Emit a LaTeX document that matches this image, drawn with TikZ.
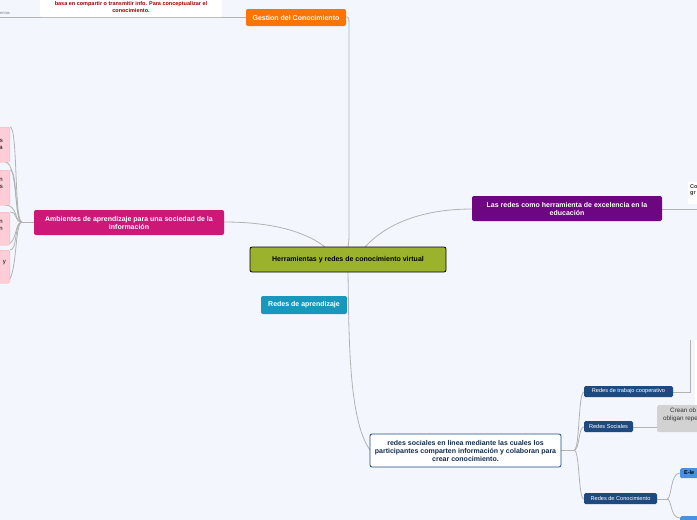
\documentclass[tikz,border=0pt]{standalone}
\usepackage{fontspec}
\setmainfont{Liberation Sans}
\begin{document}
\begin{tikzpicture}[x=1pt,y=-1pt,
 box/.style={rounded corners=2pt,text=white,font=\bfseries\fontsize{7}{8}\selectfont,align=center,inner sep=0pt},
 sub/.style={rounded corners=1.5pt,fill=navy,text=white,font=\fontsize{5.6}{6.5}\selectfont,inner sep=0pt},
 pink/.style={fill=pinkb,draw=pinkd,line width=0.3pt,rounded corners=1.5pt,font=\fontsize{6}{7}\selectfont,align=right,inner sep=0pt},
 con/.style={draw=gray!60,line width=0.8pt}]
\definecolor{bg}{HTML}{F3F6FD}
\definecolor{navy}{HTML}{1F4A80}
\definecolor{pinkb}{HTML}{FFCDD6}
\definecolor{pinkd}{HTML}{F4B0BE}
\useasboundingbox (0,0) rectangle (697,520);
\fill[bg] (0,0) rectangle (697,520);
% connectors
\draw[con] (0,17) -- (246,17);
\draw[con] (346,17) .. controls (349,17) .. (349,30) -- (349,230) .. controls (349,240) .. (348,247);
\draw[con] (224,222) .. controls (280,222) and (310,235) .. (325,247);
\draw[con] (472,209) .. controls (420,209) and (385,225) .. (365,247);
\draw[con] (662,209) -- (697,209);
\draw[con] (348,272) .. controls (349,330) and (348,420) .. (370,450);
\draw[con] (561,450) -- (574,450);
\draw[con] (574,450) .. controls (580,450) and (578,392) .. (584,392);
\draw[con] (574,450) .. controls (580,450) and (578,427) .. (584,427);
\draw[con] (574,450) .. controls (580,450) and (578,499) .. (584,499);
\draw[con] (633,427) -- (657,427);
\draw[con] (673,392) -- (690,392) -- (690,340);
\draw[con] (657,499) -- (667,499);
\draw[con] (667,499) .. controls (672,499) and (670,473) .. (680,473);
\draw[con] (667,499) .. controls (672,499) and (670,518) .. (680,518);
\draw[con] (34,222) -- (22,222);
\foreach \y in {162,205,245,283} {\draw[con] (22,222) .. controls (14,222) and (18,\y) .. (5,\y);}
\foreach \y in {127,170,212,250} {\draw[con] (10,\y) .. controls (18,\y) and (14,222) .. (22,222);}
% top box
\node[fill=white,rounded corners=1.5pt,minimum width=182pt,minimum height=20pt,anchor=north west,inner sep=0pt] (top) at (40,-3) {};
\node[font=\bfseries\fontsize{5.5}{6.5}\selectfont,text=red!60!black,align=center] (toptx) at (131,7) {basa en compartir o transmitir info. Para conceptualizar el\\conocimiento.};
\node[font=\fontsize{4}{5}\selectfont,text=gray,anchor=west,inner sep=0pt] (ent) at (0,13) {entos};
% main nodes
\node[box,fill=orange!90!red,minimum width=100pt,minimum height=17pt] (gest) at (296,17.5) {Gestion del Conocimiento};
\node[box,draw=black,line width=0.8pt,text=black,minimum width=196pt,minimum height=25pt,fill={rgb,255:red,155;green,178;blue,44}] (cen) at (348,259.5) {Herramientas y redes de conocimiento virtual};
\node[box,fill={rgb,255:red,25;green,152;blue,190},minimum width=86pt,minimum height=18pt] (apr) at (304,305) {Redes de aprendizaje};
\node[box,fill={rgb,255:red,205;green,24;blue,120},minimum width=190pt,minimum height=25pt] (amb) at (129,222.5) {Ambientes de aprendizaje para una sociedad de la\\informaci\'on};
\node[box,fill={rgb,255:red,110;green,6;blue,130},minimum width=190pt,minimum height=25pt] (las) at (567,208.5) {Las redes como herramienta de excelencia en la\\educaci\'on};
\node[box,fill=white,draw=navy,line width=0.8pt,text=navy!60!black,minimum width=191pt,minimum height=33pt] (bot) at (465.5,450.5) {redes sociales en linea mediante las cuales los\\participantes comparten informaci\'on y colaboran para\\crear conocimiento.};
\node[fill=white,anchor=north west,minimum width=12pt,minimum height=22pt,inner sep=0pt] (co) at (688,182) {};
\node[font=\bfseries\fontsize{5.5}{6.5}\selectfont,anchor=north west,align=left,inner sep=0pt,text=black!80] (cotx) at (690,184) {Co\\gr};
% sub nodes
\node[sub,minimum width=89pt,minimum height=11pt] (rtc) at (628.5,391.5) {Redes de trabajo cooperativo};
\node[sub,minimum width=49pt,minimum height=11pt] (rs) at (608.5,426.5) {Redes Sociales};
\node[sub,minimum width=73pt,minimum height=11pt] (rc) at (620.5,498.5) {Redes de Conocimiento};
\node[fill=gray!35,rounded corners=1.5pt,anchor=north west,minimum width=45pt,minimum height=27pt,inner sep=0pt] (gr) at (657,405) {};
\node[font=\fontsize{6.3}{7.3}\selectfont,anchor=north west,align=left,inner sep=0pt,text=black!80] (grtx) at (663,408) {\hspace*{7pt}Crean ob\\obligan repe};
\node[fill={rgb,255:red,74;green,144;blue,226},rounded corners=1.5pt,anchor=north west,minimum width=22pt,minimum height=10pt,inner sep=0pt] (el) at (680,468) {};
\node[font=\bfseries\fontsize{5.5}{6.5}\selectfont,anchor=west,inner sep=0pt] (eltx) at (684,473) {E-le};
\node[fill={rgb,255:red,74;green,144;blue,226},rounded corners=1.5pt,anchor=north west,minimum width=22pt,minimum height=6pt,inner sep=0pt] (el2) at (680,516) {};
\node[fill=white,anchor=north west,minimum width=5pt,minimum height=65pt,inner sep=0pt] (wr) at (695,340) {};
% pink boxes
\foreach \a/\b [count=\i] in {127/162,170/205,212/245,250/283} {
 \node[pink,anchor=north east,minimum width=20pt,minimum height=\b pt-\a pt] (p\i) at (10,\a) {};
}
\node[font=\fontsize{6}{7}\selectfont,anchor=east,align=right,inner sep=0pt] (t1) at (3,144) {s\\a};
\node[font=\fontsize{6}{7}\selectfont,anchor=east,align=right,inner sep=0pt] (t2) at (3,183) {n\\s};
\node[font=\fontsize{6}{7}\selectfont,anchor=east,align=right,inner sep=0pt] (t3) at (3,225) {n\\n};
\node[font=\fontsize{6}{7}\selectfont,anchor=east,align=right,inner sep=0pt] (t4) at (6,263) {y};
\end{tikzpicture}
\end{document}
